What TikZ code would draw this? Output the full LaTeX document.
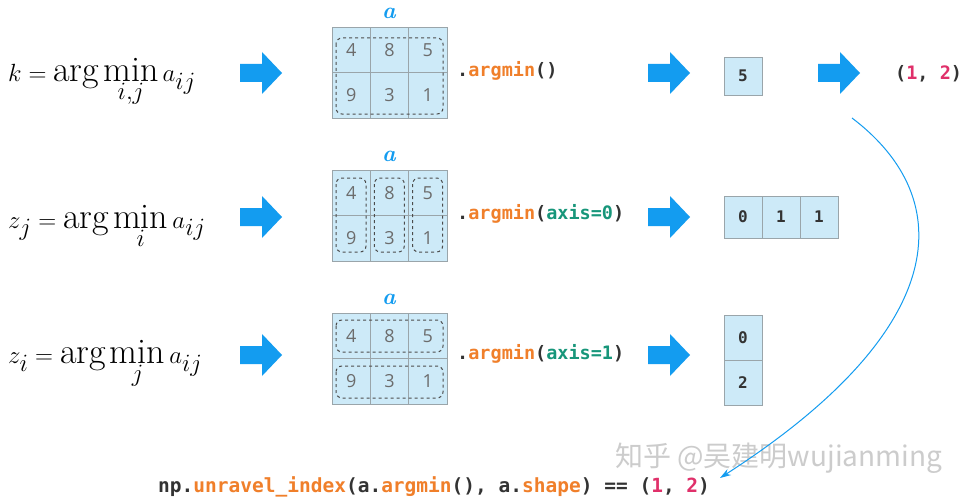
\documentclass[tikz,border=0pt]{standalone}
\usepackage{fontspec}
\setmainfont{Latin Modern Roman}
\newfontfamily\codef{DejaVu Sans Mono}
\newfontfamily\numf{Open Sans}
\newfontfamily\cjk{Noto Sans CJK SC}
\usetikzlibrary{arrows.meta}
\definecolor{cellblue}{HTML}{CDEAF8}
\definecolor{cellline}{HTML}{9AA5AA}
\definecolor{arrblue}{HTML}{139CF0}
\definecolor{corange}{HTML}{F07F2A}
\definecolor{cgreen}{HTML}{17967A}
\definecolor{cmag}{HTML}{E0306A}
\definecolor{ctext}{HTML}{333333}
\tikzset{
  cell/.style={draw=cellline, fill=cellblue, minimum width=38.3pt, minimum height=45.5pt, inner sep=0pt, font=\numf\fontsize{18}{18}\selectfont, text=gray!85!black, line width=0.8pt},
  rcell/.style={draw=cellline, fill=cellblue, minimum width=38pt, minimum height=42pt, inner sep=0pt, font=\codef\bfseries\fontsize{16}{16}\selectfont, text=ctext, line width=0.8pt},
  dash box/.style={draw=gray!60!black, dashed, rounded corners=6pt, line width=1pt},
  code/.style={font=\codef\bfseries\fontsize{18.5}{18.5}\selectfont, text=ctext, anchor=west, inner sep=0pt},
  amark/.style={font=\fontsize{23}{23}\selectfont\bfseries\itshape, text=arrblue},
  formula/.style={font=\fontsize{36}{36}\selectfont, anchor=west, inner sep=0pt}
}
\newcommand{\blockarrow}[2]{%
  \fill[arrblue] (#1,#2-9) -- (#1+22,#2-9) -- (#1+22,#2-21) -- (#1+42,#2) -- (#1+22,#2+21) -- (#1+22,#2+9) -- (#1,#2+9) -- cycle;}
\begin{document}
\begin{tikzpicture}[x=1pt,y=-1pt]
\useasboundingbox (0,0) rectangle (975,503);
\fill[white] (0,0) rectangle (975,503);
% formulas
\node[formula] (f1) at (8,82) {$\displaystyle k=\arg\min_{i,j} a_{ij}$};
\node[formula] (f2) at (8,226) {$\displaystyle z_j=\arg\min_{i} a_{ij}$};
\node[formula] (f3) at (8,364) {$\displaystyle z_i=\arg\min_{j} a_{ij}$};
% arrows
\blockarrow{240}{73}\blockarrow{240}{217}\blockarrow{240}{355}
\blockarrow{648}{73}\blockarrow{648}{217}\blockarrow{648}{355}
\blockarrow{818}{73}
% matrices
\foreach \r/\y in {1/27,2/170,3/313}{
  \node[amark] (a\r) at (389,\y-14) {a};
  \foreach \c/\va/\vb [count=\i] in {0/4/9,1/8/3,2/5/1}{
    \node[cell] (m\r a\i) at (351.2+\c*38.3,\y+22.75) {\va};
    \node[cell] (m\r b\i) at (351.2+\c*38.3,\y+68.25) {\vb};
  }
}
% dashed groups
\draw[dash box] (336,38) rectangle (443,114);
\foreach \i in {1,2,3}{
  \draw[dash box] (336+\i*38.3-38.3,178) rectangle (366+\i*38.3-38.3,252);
}
\draw[dash box] (336,320) rectangle (443,352);
\draw[dash box] (336,366) rectangle (443,398);
% code labels
\node[code] (c1) at (457,71) {.\textcolor{corange}{argmin}()};
\node[code] (c2) at (457,214) {.\textcolor{corange}{argmin}(\textcolor{cgreen}{axis=0})};
\node[code] (c3) at (457,354) {.\textcolor{corange}{argmin}(\textcolor{cgreen}{axis=1})};
% results
\node[rcell, minimum height=38pt] (r1) at (743,76) {5};
\node[rcell] (r2a) at (743,217) {0};
\node[rcell] (r2b) at (781,217) {1};
\node[rcell] (r2c) at (819,217) {1};
\node[rcell, minimum height=45pt] (r3a) at (743,337.5) {0};
\node[rcell, minimum height=45pt] (r3b) at (743,382.5) {2};
\node[code] (t1) at (895,74) {(\textcolor{cmag}{1}, \textcolor{cmag}{2})};
% bottom
\node[code, font=\codef\bfseries\fontsize{19.5}{19.5}\selectfont] (bot) at (158,487) {np.\textcolor{corange}{unravel\_index}(a.\textcolor{corange}{argmin}(), a.\textcolor{corange}{shape}) == (\textcolor{cmag}{1}, \textcolor{cmag}{2})};
% watermark
\node[font=\cjk\fontsize{28}{28}\selectfont, text=gray!40, anchor=west, inner sep=0pt] (wm) at (615,458) {知乎 @吴建明wujianming};
\coordinate (cs) at (852,118);
\coordinate (ce) at (720,478);
\draw[arrblue, line width=1pt, -{Stealth[length=11pt,width=7pt]}] (cs) .. controls (960,200) and (950,330) .. (ce);
\end{tikzpicture}
\end{document}
